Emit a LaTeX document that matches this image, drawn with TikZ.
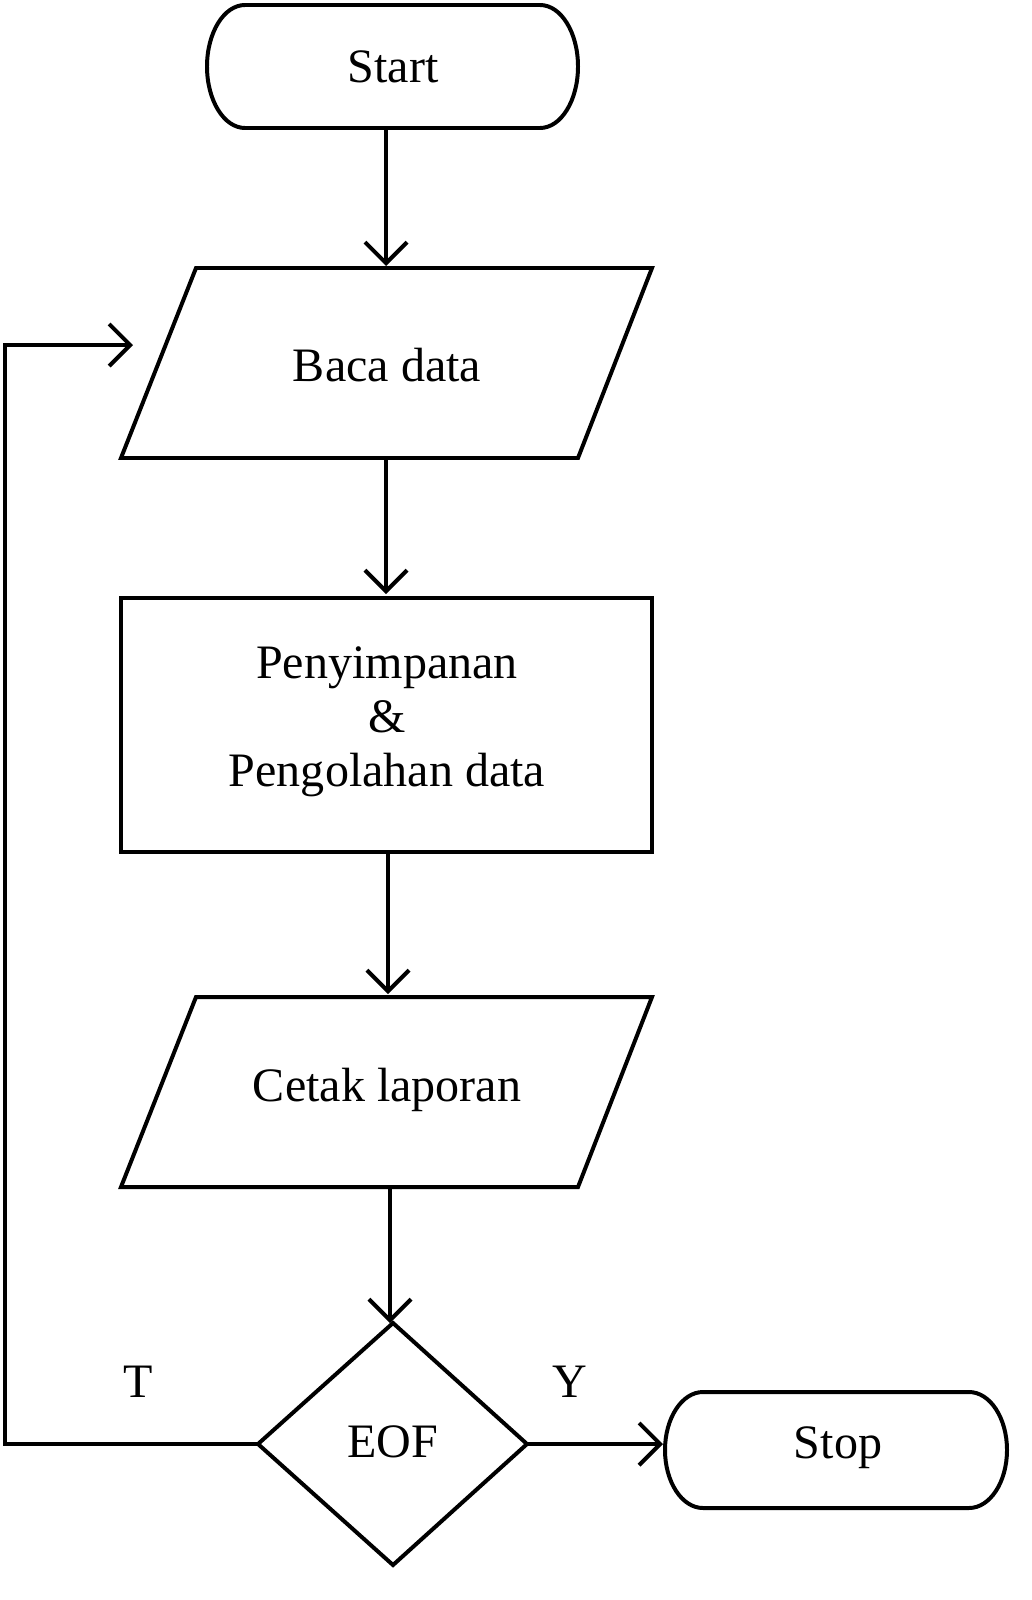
\documentclass[tikz,border=0pt]{standalone}
\usepackage{fontspec}
\setmainfont{Liberation Serif}
\usetikzlibrary{arrows.meta}
\begin{document}
\begin{tikzpicture}[x=0.03cm,y=-0.03cm,
  shp/.style={line width=3.4pt,line join=miter},
  conn/.style={line width=3.4pt,-{Straight Barb[length=18pt,width=36pt,line width=3.4pt]}},
  lbl/.style={font=\fontsize{41}{46}\selectfont,align=center,inner sep=0}]
\useasboundingbox (0,0) rectangle (1031,1600);
% Start
\draw[shp] (245,5) -- (540,5) arc[start angle=-90,end angle=90,x radius=38,y radius=61.5] -- (245,128) arc[start angle=90,end angle=270,x radius=38,y radius=61.5] -- cycle;
\node[lbl] (start) at (393,67) {Start};
\coordinate (startB) at (386,128);
% Baca
\draw[shp] (196,268) -- (652,268) -- (578,458) -- (121,458) -- cycle;
\node[lbl] (baca) at (387,365) {Baca data};
\coordinate (bacaT) at (386,266);
\coordinate (bacaB) at (386,458);
\coordinate (bacaL) at (133,345);
% Process
\draw[shp] (121,598) rectangle (652,852);
\node[lbl,align=center] (proc) at (387,722) {Penyimpanan\\\&\\Pengolahan data};
\coordinate (procT) at (386,594);
\coordinate (procB) at (388,852);
% Cetak
\draw[shp] (196,997) -- (652,997) -- (578,1187) -- (121,1187) -- cycle;
\node[lbl] (cetak) at (387,1090) {Cetak laporan};
\coordinate (cetakT) at (388,994);
\coordinate (cetakB) at (390,1187);
% EOF
\draw[shp] (393,1323) -- (527,1444) -- (393,1565) -- (258,1444) -- cycle;
\node[lbl] (eof) at (393,1442) {EOF};
\coordinate (eofT) at (390,1323);
\coordinate (eofL) at (258,1444);
\coordinate (eofR) at (527,1444);
\node[lbl] (T) at (138,1382) {T};
\node[lbl] (Y) at (570,1382) {Y};
% Stop
\draw[shp] (703,1392) -- (969,1392) arc[start angle=-90,end angle=90,x radius=38,y radius=58] -- (703,1508) arc[start angle=90,end angle=270,x radius=38,y radius=58] -- cycle;
\node[lbl] (stop) at (838,1448) {Stop};
\coordinate (stopL) at (663,1444);
% connectors
\draw[conn] (startB) -- (bacaT);
\draw[conn] (bacaB) -- (procT);
\draw[conn] (procB) -- (cetakT);
\draw[conn] (cetakB) -- (eofT);
\draw[conn] (eofR) -- (stopL);
\draw[conn,line join=miter] (eofL) -- (5,1444) -- (5,345) -- (bacaL);
\end{tikzpicture}
\end{document}
